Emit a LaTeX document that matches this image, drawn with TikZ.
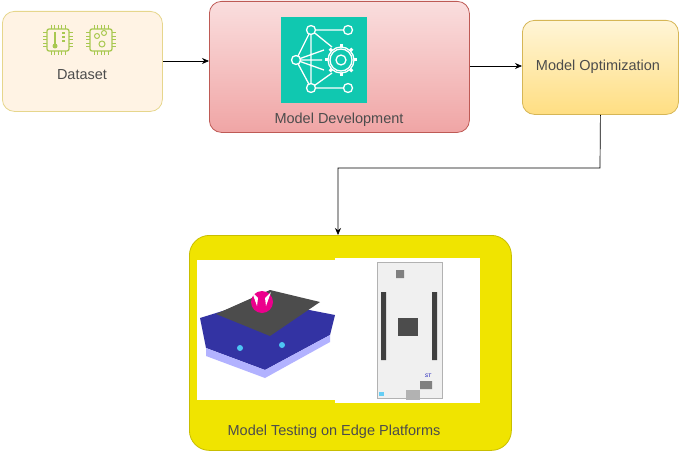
\documentclass[tikz,border=0pt]{standalone}
\usepackage{fontspec}
\setmainfont{Liberation Sans}
\usetikzlibrary{arrows.meta}
\definecolor{tealc}{HTML}{10C8B0}
\definecolor{chipg}{HTML}{A8C850}
\begin{document}
\begin{tikzpicture}[x=1pt,y=-1pt,
  box/.style={draw,rounded corners=12pt,line width=0.8pt},
  lbl/.style={font=\fontsize{14.5}{16}\selectfont,text=black!70},
  arr/.style={-{Stealth[length=7pt,width=6pt]},line width=0.7pt}]
\useasboundingbox (0,0) rectangle (685,452);
% Dataset
\node[box,draw={rgb,255:red,230;green,214;blue,140},fill={rgb,255:red,255;green,243;blue,228},minimum width=160pt,minimum height=100pt,anchor=north west] (ds) at (2,11) {};
\node[lbl] (dsl) at (82,75) {Dataset};
\foreach \cx/\nm in {58/c1,101/c2}{
  \node[draw=chipg,line width=1.3pt,minimum size=22pt,inner sep=0pt,rounded corners=2pt] (\nm) at (\cx,40) {};
  \foreach \d in {-7,-3.5,0,3.5,7}{
    \draw[chipg,line width=1pt] (\cx-15,40+\d) -- (\cx-11,40+\d) (\cx+11,40+\d) -- (\cx+15,40+\d)
      (\cx+\d,25) -- (\cx+\d,29) (\cx+\d,51) -- (\cx+\d,55);}
}
\draw[chipg,line width=1.4pt] (55,32) -- (55,45) (62,33) -- (65,33) (62,37) -- (65,37) (62,41)--(65,41);
\fill[chipg] (55,46) circle (2.5pt);
\draw[chipg,line width=1pt] (97,36) circle (2.5pt) (104,33) circle (2.5pt) (102,44) circle (3pt);
% Model Development
\node[box,draw={rgb,255:red,190;green,90;blue,85},top color={rgb,255:red,250;green,222;blue,222},bottom color={rgb,255:red,240;green,165;blue,165},minimum width=260pt,minimum height=131pt,anchor=north west] (dev) at (209,1) {};
\node[lbl] (devl) at (339,120) {Model Development};
\node[fill=tealc,minimum size=86pt,inner sep=0pt] (ic) at (324,60) {};
\begin{scope}[white,line width=1.3pt]
  \coordinate (n1) at (311,30); \coordinate (n2) at (348,30);
  \coordinate (n3) at (296,60); \coordinate (n4) at (311,88); \coordinate (n5) at (348,88);
  \draw (n1) -- (n2) (n1) -- (n3) (n3) -- (n4) (n4) -- (n5) (n1) -- (n4) (n1) -- (332,47) (n4) -- (332,73) (n3) -- (322,60) (n3)--(324,50) (n3)--(324,70);
  \foreach \n in {n1,n2,n3,n4,n5} \draw[fill=tealc] (\n) circle (4.5pt);
  \draw[fill=tealc] (341,60) circle (13pt);
  \foreach \a in {0,45,...,315} \draw[line width=3pt] (341,60) ++(\a:13pt) -- ++(\a:3pt);
  \draw[fill=tealc] (341,60) circle (11pt);
  \draw (341,60) circle (5pt);
\end{scope}
% Model Optimization
\node[box,draw={rgb,255:red,214;green,182;blue,86},top color={rgb,255:red,255;green,245;blue,215},bottom color={rgb,255:red,255;green,222;blue,130},minimum width=156pt,minimum height=94pt,anchor=north west] (opt) at (522,20) {};
\node[lbl] (optl) at (598,67) {Model Optimization};
% Testing
\node[box,rounded corners=20pt,draw={rgb,255:red,200;green,190;blue,0},fill={rgb,255:red,240;green,228;blue,0},minimum width=322pt,minimum height=215pt,anchor=north west] (tst) at (189,235) {};
\node[lbl] (tstl) at (334,432) {Model Testing on Edge Platforms};
\node[fill=white,minimum width=138pt,minimum height=140pt,anchor=north west,inner sep=0pt] (im1) at (197,260) {};
\node[fill=white,minimum width=145pt,minimum height=145pt,anchor=north west,inner sep=0pt] (im2) at (335,258) {};
% board 1
\fill[blue!55!black!80] (200,318) -- (258,300) -- (335,315) -- (330,335) -- (265,370) -- (206,348) -- cycle;
\fill[blue!30!white] (206,348) -- (265,370) -- (330,335) -- (330,342) -- (265,378) -- (206,356) -- cycle;
\fill[black!70] (216,314) -- (270,290) -- (320,302) -- (270,336) -- cycle;
\fill[magenta] (262,302) circle (11pt);
\fill[white] (258,298) -- (252,292) -- (257,306) -- cycle (265,298) -- (271,292) -- (266,306) -- cycle;
\fill[cyan!70] (240,348) circle (3pt) (282,345) circle (3pt);
% board 2
\fill[black!6] (377,262) rectangle (442,398);
\draw[black!30] (377,262) rectangle (442,398);
\fill[black!75] (381,292) rectangle (386,360) (432,292) rectangle (437,360);
\fill[black!70] (398,318) rectangle (418,336);
\fill[black!50] (396,270) rectangle (404,278) (420,381) rectangle (432,389);
\fill[black!30] (406,390) rectangle (420,400);
\fill[cyan!60] (379,392) rectangle (384,396);
\node[font=\tiny\itshape,text=blue!70!black,inner sep=0pt] (st) at (428,376) {ST};
% arrows
\draw[arr] (ds.east |- 0,61) -- (dev.west |- 0,61);
\draw[arr] (dev.east |- 0,66) -- (opt.west |- 0,66);
\draw[arr] (opt.south) -- (600,168) -- (338,168) -- (338,235);
\end{tikzpicture}
\end{document}
